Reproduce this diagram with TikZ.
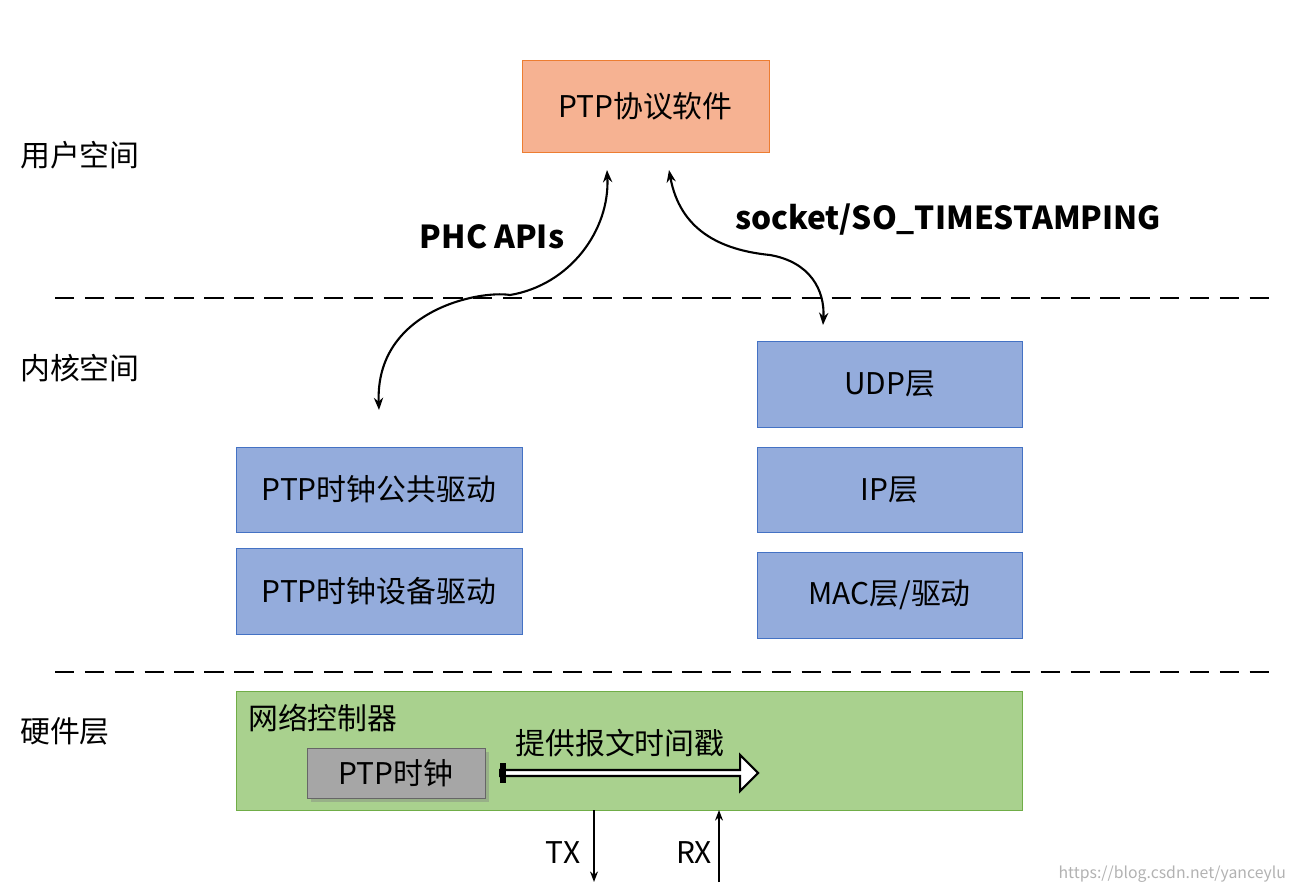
\documentclass[tikz,border=0pt]{standalone}
\usepackage{fontspec}
\setmainfont{Noto Sans CJK SC}
\usetikzlibrary{arrows.meta,shadows,shapes.arrows}
\definecolor{bfill}{HTML}{94ACDC}
\definecolor{bdraw}{HTML}{4472C4}
\definecolor{ofill}{HTML}{F6B292}
\definecolor{odraw}{HTML}{ED7D31}
\definecolor{gfill}{HTML}{A9D18E}
\definecolor{gdraw}{HTML}{70AD47}
\tikzset{
  every node/.style={font=\fontsize{17}{20}\selectfont},
  blu/.style={draw=bdraw,fill=bfill,inner sep=0pt},
  lbl/.style={anchor=west},
  dsh/.style={line width=1.6pt,dash pattern=on 11pt off 6pt},
  carr/.style={{Stealth[length=7pt]}-{Stealth[length=7pt]},line width=1.2pt},
}
\begin{document}
\begin{tikzpicture}[x=0.02cm,y=-0.02cm]
\useasboundingbox (0,0) rectangle (1294,893);
\node[draw=odraw,fill=ofill,minimum width=247*0.02cm,minimum height=92*0.02cm] (ptp) at (645.5,106) {PTP协议软件};
\node[lbl] (us) at (14,155) {用户空间};
\node[lbl] (ks) at (14,368) {内核空间};
\node[lbl] (hw) at (14,731) {硬件层};
\coordinate (d1a) at (55,298); \coordinate (d1b) at (1270,298);
\coordinate (d2a) at (55,672); \coordinate (d2b) at (1270,672);
\draw[dsh] (d1a) -- (d1b);
\draw[dsh] (d2a) -- (d2b);
\node[blu,minimum width=286*0.02cm,minimum height=85*0.02cm] (pub) at (379,489.5) {PTP时钟公共驱动};
\node[blu,minimum width=286*0.02cm,minimum height=86*0.02cm] (dev) at (379,591) {PTP时钟设备驱动};
\node[blu,minimum width=265*0.02cm,minimum height=86*0.02cm] (udp) at (889.5,384) {UDP层};
\node[blu,minimum width=265*0.02cm,minimum height=85*0.02cm] (ip) at (889.5,489.5) {IP层};
\node[blu,minimum width=265*0.02cm,minimum height=86*0.02cm] (mac) at (889.5,595) {MAC层/驱动};
\node[draw=gdraw,fill=gfill,minimum width=786*0.02cm,minimum height=119*0.02cm,inner sep=0pt] (nic) at (629,750.5) {};
\node[anchor=west] (nict) at (242,718) {网络控制器};
\node[draw=gray!80!black,fill=gray!70,minimum width=178*0.02cm,minimum height=50*0.02cm,drop shadow={shadow xshift=2pt,shadow yshift=-2pt,opacity=0.4}] (clk) at (396,773) {PTP时钟};
\node[single arrow,draw=black,line width=1.2pt,fill=white,minimum height=258*0.02cm,minimum width=36*0.02cm,single arrow head extend=3pt,inner sep=0pt,anchor=west] (ts) at (499,773) {};
\node[fill=black,minimum width=6*0.02cm,minimum height=20*0.02cm,inner sep=0pt] (tsm) at (503,773) {};
\node (tst) at (620,743) {提供报文时间戳};
\coordinate (c1) at (379,410); \coordinate (c2) at (607,170);
\coordinate (c3) at (669,170); \coordinate (c4) at (823,325);
\draw[carr] (c1) .. controls (375,310) and (480,290) .. (510,295) .. controls (570,285) and (610,230) .. (c2);
\draw[carr] (c3) .. controls (680,230) and (720,250) .. (770,255) .. controls (810,262) and (825,290) .. (c4);
\node[font=\fontsize{18}{20}\selectfont\bfseries] (phc) at (492,237) {PHC APIs};
\node[font=\fontsize{18}{20}\selectfont\bfseries] (sock) at (948,220) {socket/SO\_TIMESTAMPING};
\coordinate (tx1) at (594,810); \coordinate (tx2) at (594,882);
\coordinate (rx1) at (719,882); \coordinate (rx2) at (719,810);
\draw[-{Stealth[length=6pt]},line width=1.2pt] (tx1) -- (tx2);
\draw[-{Stealth[length=6pt]},line width=1.2pt] (rx1) -- (rx2);
\node (txl) at (563,853) {TX};
\node (rxl) at (694,853) {RX};
\node[text=gray!60,font=\fontsize{9}{10}\selectfont,anchor=east,inner sep=1pt] (wm) at (1288,874) {https://blog.csdn.net/yanceylu};
\end{tikzpicture}
\end{document}
